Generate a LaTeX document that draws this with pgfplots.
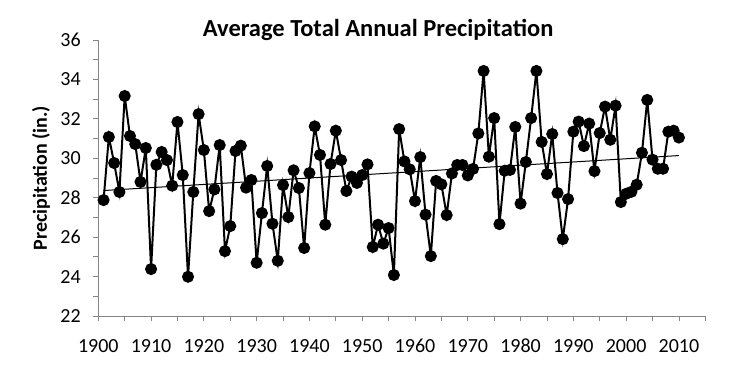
\documentclass[border=0pt]{standalone}
\usepackage{pgfplots}
\pgfplotsset{compat=1.18}
\usepackage{pgfplotstable}
\usepackage{fontspec}
\setmainfont{Carlito}

\pgfplotstableread{
Year P
1901 27.88
1902 31.08
1903 29.76
1904 28.29
1905 33.16
1906 31.13
1907 30.72
1908 28.80
1909 30.52
1910 24.38
1911 29.67
1912 30.32
1913 29.91
1914 28.61
1915 31.84
1916 29.15
1917 23.99
1918 28.29
1919 32.24
1920 30.42
1921 27.32
1922 28.42
1923 30.67
1924 25.29
1925 26.56
1926 30.37
1927 30.64
1928 28.51
1929 28.90
1930 24.70
1931 27.22
1932 29.61
1933 26.68
1934 24.80
1935 28.64
1936 27.02
1937 29.39
1938 28.49
1939 25.45
1940 29.25
1941 31.62
1942 30.17
1943 26.63
1944 29.71
1945 31.40
1946 29.91
1947 28.34
1948 29.07
1949 28.75
1950 29.15
1951 29.69
1952 25.50
1953 26.63
1954 25.67
1955 26.46
1956 24.08
1957 31.48
1958 29.84
1959 29.44
1960 27.83
1961 30.06
1962 27.14
1963 25.04
1964 28.85
1965 28.68
1966 27.12
1967 29.23
1968 29.66
1969 29.66
1970 29.13
1971 29.46
1972 31.26
1973 34.43
1974 30.08
1975 32.04
1976 26.66
1977 29.37
1978 29.41
1979 31.59
1980 27.70
1981 29.81
1982 32.04
1983 34.43
1984 30.83
1985 29.20
1986 31.23
1987 28.24
1988 25.90
1989 27.93
1990 31.35
1991 31.86
1992 30.62
1993 31.76
1994 29.35
1995 31.28
1996 32.62
1997 30.94
1998 32.67
1999 27.78
2000 28.20
2001 28.30
2002 28.66
2003 30.28
2004 32.96
2005 29.93
2006 29.47
2007 29.47
2008 31.35
2009 31.40
2010 31.05
}\datatable

\definecolor{axisgray}{HTML}{868686}

\begin{document}
\begin{tikzpicture}
\path[use as bounding box] (-98.3pt,-53pt) rectangle (651.7pt,316pt);
\begin{axis}[
  at={(0,0)}, anchor=south west,
  scale only axis,
  width=607pt, height=276pt,
  xmin=1900, xmax=2015,
  ymin=22, ymax=36,
  xtick={1900,1910,...,2010},
  minor xtick={1905,1915,...,2015},
  ytick={22,24,...,36},
  minor ytick={23,25,...,35},
  axis x line*=bottom,
  axis y line*=left,
  axis line style={axisgray, line width=0.8pt},
  tick align=outside,
  major tick length=5pt,
  minor tick length=5pt,
  every tick/.style={axisgray, line width=0.8pt},
  /pgf/number format/assume math mode=true,
  /pgf/number format/1000 sep={},
  tick label style={font=\fontsize{20}{20}\selectfont, black},
  xticklabel style={anchor=base, yshift=-32pt},
  yticklabel style={xshift=-9pt},
  title={\bfseries Average Total Annual Precipitation},
  title style={font=\fontsize{24.5}{24.5}\selectfont, at={(axis description cs:0.461,1.018)}, anchor=base, yshift=-7pt},
  ylabel={\bfseries Precipitation (in.)},
  ylabel style={font=\fontsize{20}{20}\selectfont, at={(axis description cs:-0.0945,0.5)}, anchor=center, rotate=0},
  clip=false,
]
\addplot[black, line width=2pt, mark=*, mark size=5pt, mark options={fill=black}] table[x=Year, y=P] {\datatable};
\addplot[black, line width=1pt, no marks] table[x=Year, y={create col/linear regression={y=P}}] {\datatable};
\end{axis}
\end{tikzpicture}
\end{document}
